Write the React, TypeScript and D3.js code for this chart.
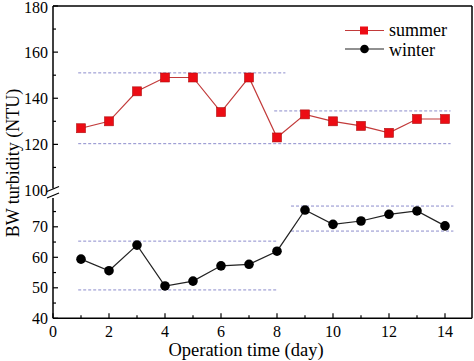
import React from "react";
import * as d3 from "d3";

// days 1..14
const days = d3.range(1, 15);
const summer = [127, 130, 143, 149, 149, 134, 149, 123, 133, 130, 128, 125, 131, 131];
const winter = [59.4, 55.6, 64, 50.6, 52.2, 57.2, 57.7, 62, 75.5, 70.8, 71.9, 74.1, 75.2, 70.3];

// dashed reference bands: [x0, x1, value]
const summerBands = [
  [0.9, 8.3, 151],
  [0.9, 14.2, 120.3],
  [7.9, 14.2, 134.5],
];
const winterBands = [
  [0.9, 8.0, 65.3],
  [0.9, 8.0, 49.3],
  [8.5, 14.3, 76.8],
  [8.5, 14.3, 68.6],
];

const xTicks = [0, 2, 4, 6, 8, 10, 12, 14];
const upTicks = [100, 120, 140, 160, 180];
const lowTicks = [40, 50, 60, 70];

const W = 474;
const H = 361;
const L = 53;
const R = 472;
const TOP = 6;
const BOT = 318.3;

const serif = { fontFamily: "'Liberation Serif', 'Times New Roman', Times, serif" };

export default function App() {
  const x = d3.scaleLinear().domain([0, 15]).range([L, L + 28 * 15]);
  const yUp = d3.scaleLinear().domain([100, 180]).range([190.5, TOP]);
  const yLow = d3.scaleLinear().domain([40, 80]).range([BOT, 196.3]);

  const lineUp = d3.line<number>().x((_, i) => x(days[i])).y((d) => yUp(d));
  const lineLow = d3.line<number>().x((_, i) => x(days[i])).y((d) => yLow(d));

  const dashCol = "#8c8ccc";

  const upMinor = d3.range(110, 180, 20);
  const lowMinor = d3.range(45, 80, 10);
  const xMinor = d3.range(1, 15, 2);

  return (
    <div>
      <style>{`body{margin:0}`}</style>
      <svg width={W} height={H} style={{ display: "block", background: "#fff", ...serif }}>
        {/* frame */}
        <line x1={L} x2={R} y1={TOP} y2={TOP} stroke="#000" strokeWidth={1.5} />
        <line x1={R} x2={R} y1={TOP} y2={BOT} stroke="#000" strokeWidth={1.5} />
        <line x1={L} x2={R} y1={BOT} y2={BOT} stroke="#000" strokeWidth={1.5} />
        <line x1={L} x2={L} y1={TOP} y2={188.5} stroke="#000" strokeWidth={1.5} />
        <line x1={L} x2={L} y1={198} y2={BOT} stroke="#000" strokeWidth={1.5} />
        {/* break marks */}
        <line x1={47} x2={59} y1={191.5} y2={186.5} stroke="#000" strokeWidth={1.2} />
        <line x1={47} x2={59} y1={198} y2={193} stroke="#000" strokeWidth={1.2} />

        {/* x ticks */}
        {xTicks.map((t) => (
          <g key={"xt" + t}>
            <line x1={x(t)} x2={x(t)} y1={BOT} y2={BOT - 5} stroke="#000" strokeWidth={1.2} />
            <text x={x(t)} y={BOT + 19} fontSize={16} textAnchor="middle" style={serif}>{t}</text>
          </g>
        ))}
        {xMinor.map((t) => (
          <line key={"xm" + t} x1={x(t)} x2={x(t)} y1={BOT} y2={BOT - 3} stroke="#000" strokeWidth={1.2} />
        ))}

        {/* y ticks upper */}
        {upTicks.map((t) => (
          <g key={"ut" + t}>
            {t !== 100 && <line x1={L} x2={L + 5} y1={yUp(t)} y2={yUp(t)} stroke="#000" strokeWidth={1.2} />}
            <text x={L - 5} y={yUp(t) + (t === 180 ? 7 : 5.5)} fontSize={16} textAnchor="end" style={serif}>{t}</text>
          </g>
        ))}
        {upMinor.map((t) => (
          <line key={"um" + t} x1={L} x2={L + 3} y1={yUp(t)} y2={yUp(t)} stroke="#000" strokeWidth={1.2} />
        ))}
        {/* y ticks lower */}
        {lowTicks.map((t) => (
          <g key={"lt" + t}>
            <line x1={L} x2={L + 5} y1={yLow(t)} y2={yLow(t)} stroke="#000" strokeWidth={1.2} />
            <text x={L - 5} y={yLow(t) + 5.5} fontSize={16} textAnchor="end" style={serif}>{t}</text>
          </g>
        ))}
        {lowMinor.map((t) => (
          <line key={"lm" + t} x1={L} x2={L + 3} y1={yLow(t)} y2={yLow(t)} stroke="#000" strokeWidth={1.2} />
        ))}

        {/* dashed bands */}
        {summerBands.map((b, i) => (
          <line key={"sb" + i} x1={x(b[0])} x2={x(b[1])} y1={yUp(b[2])} y2={yUp(b[2])}
            stroke={dashCol} strokeWidth={1} strokeDasharray="3,2" />
        ))}
        {winterBands.map((b, i) => (
          <line key={"wb" + i} x1={x(b[0])} x2={x(b[1])} y1={yLow(b[2])} y2={yLow(b[2])}
            stroke={dashCol} strokeWidth={1} strokeDasharray="3,2" />
        ))}

        {/* summer */}
        <path d={lineUp(summer) || ""} fill="none" stroke="#c23a3a" strokeWidth={1.2} />
        {summer.map((v, i) => (
          <rect key={"s" + i} x={x(days[i]) - 4.5} y={yUp(v) - 4.5} width={9} height={9}
            fill="#ec0c14" stroke="#b01010" strokeWidth={0.6} />
        ))}

        {/* winter */}
        <path d={lineLow(winter) || ""} fill="none" stroke="#222" strokeWidth={1.2} />
        {winter.map((v, i) => (
          <circle key={"w" + i} cx={x(days[i])} cy={yLow(v)} r={4.8} fill="#000" />
        ))}

        {/* legend */}
        <line x1={345} x2={384} y1={30.5} y2={30.5} stroke="#c23a3a" strokeWidth={1.2} />
        <rect x={360} y={26.5} width={8} height={8} fill="#ec0c14" />
        <text x={389} y={36} fontSize={18} style={serif}>summer</text>
        <line x1={345} x2={384} y1={49} y2={49} stroke="#222" strokeWidth={1.2} />
        <circle cx={364.5} cy={49} r={4.3} fill="#000" />
        <text x={389} y={55.5} fontSize={18} style={serif}>winter</text>

        {/* axis titles */}
        <text x={246} y={356} fontSize={18.5} textAnchor="middle" style={serif}>Operation time (day)</text>
        <text transform="translate(19,163) rotate(-90)" fontSize={18} textAnchor="middle" style={serif}>BW turbidity (NTU)</text>
      </svg>
    </div>
  );
}
